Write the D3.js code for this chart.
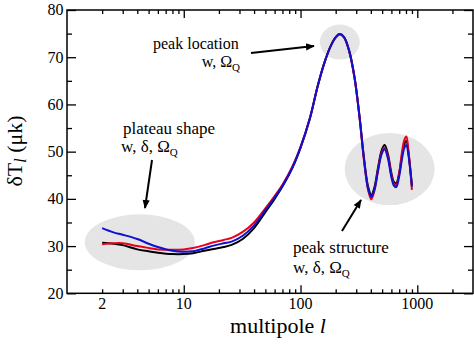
<!DOCTYPE html>
<html>
<head>
<meta charset="utf-8">
<script src="https://cdn.jsdelivr.net/npm/d3@7"></script>
<style>
  html, body { margin: 0; padding: 0; background: #fff; }
  svg { display: block; }
  text { font-family: "Liberation Serif", "Times New Roman", "DejaVu Serif", serif; fill: #000; }
</style>
</head>
<body>
<svg id="chart" width="474" height="357"></svg>
<script>
// ---- data ----
const multipoles = [2, 2.5, 3, 4, 5, 6, 8, 10, 12, 15, 18, 22, 26, 32, 40, 50, 60, 70, 85, 100, 120, 140, 160, 180, 200, 216, 235, 260, 290, 320, 350, 380, 404, 430, 460, 495, 525, 560, 600, 630, 660, 700, 740, 775, 806, 840, 900];
const blackSeries = [30.7, 30.5, 30.2, 29.3, 28.9, 28.6, 28.3, 28.3, 28.5, 29.0, 29.4, 29.8, 30.3, 31.5, 33.8, 37.2, 40.0, 42.6, 46.5, 50.8, 56.9, 63.8, 68.8, 72.2, 74.2, 74.9, 74.3, 71.5, 65.8, 57.5, 48.5, 42.5, 40.8, 42.5, 46.5, 50.3, 51.4, 49.5, 45.5, 43.6, 43.3, 45.5, 49.2, 51.6, 52.3, 49.8, 42.8];
const redSeries   = [30.4, 30.6, 30.6, 30.0, 29.6, 29.3, 29.2, 29.3, 29.6, 30.2, 30.8, 31.3, 31.8, 33.0, 35.0, 38.0, 40.6, 43.0, 46.8, 51.0, 57.0, 63.8, 68.8, 72.2, 74.2, 74.8, 74.2, 71.4, 65.6, 57.2, 48.0, 41.8, 39.9, 41.8, 46.0, 49.8, 50.8, 49.0, 45.0, 43.2, 42.9, 45.5, 50.0, 52.5, 53.2, 50.2, 41.9];
const blueSeries  = [33.8, 32.9, 32.4, 31.5, 30.5, 29.8, 29.0, 28.8, 28.9, 29.5, 30.1, 30.6, 31.0, 32.2, 34.4, 37.6, 40.3, 42.8, 46.6, 50.9, 57.0, 63.8, 68.8, 72.2, 74.2, 74.9, 74.3, 71.5, 65.7, 57.4, 48.3, 42.0, 40.4, 42.0, 45.8, 49.5, 50.5, 48.6, 44.6, 42.8, 42.5, 44.8, 48.5, 50.8, 51.4, 49.2, 42.6];
const seriesNames = ["black", "red", "blue"];
const seriesColors = ["#000000", "#e8001c", "#1010d0"];

const xTickLabels = [2, 10, 100, 1000];
const xMajorTicks = [10, 100, 1000];
const xMinorTicks = [2, 3, 4, 5, 6, 7, 8, 9, 20, 30, 40, 50, 60, 70, 80, 90, 200, 300, 400, 500, 600, 700, 800, 900, 2000];
const yMajorTicks = [20, 30, 40, 50, 60, 70, 80];
const yMinorTicks = [25, 35, 45, 55, 65, 75];

// ---- layout ----
const svg = d3.select("#chart");
const L = 67, R = 473, T = 10, B = 293.3;
const x = d3.scaleLog().domain([1, 3000]).range([L, R]);
const y = d3.scaleLinear().domain([20, 80]).range([B, T]);

// highlight ellipses (annotation regions)
const ellipses = [
  { l: 4.2, v: 30.8, rx: 55, ry: 28 },
  { l: 217, v: 73.2, rx: 20, ry: 17.5 },
  { l: 580, v: 46.3, rx: 45, ry: 36 }
];
svg.selectAll("ellipse.hl").data(ellipses).enter().append("ellipse")
  .attr("class", "hl")
  .attr("cx", d => x(d.l)).attr("cy", d => y(d.v))
  .attr("rx", d => d.rx).attr("ry", d => d.ry)
  .attr("fill", "#e5e5e5");

// ---- curves ----
const allSeries = [blackSeries, redSeries, blueSeries];
const line = d3.line()
  .x(d => x(d[0])).y(d => y(d[1]))
  .curve(d3.curveCatmullRom.alpha(0.5));
allSeries.forEach((vals, i) => {
  svg.append("path")
    .datum(multipoles.map((m, k) => [m, vals[k]]))
    .attr("d", line)
    .attr("fill", "none")
    .attr("stroke", seriesColors[i])
    .attr("stroke-width", 2)
    .attr("stroke-linejoin", "round");
});

// ---- axes (box with inward ticks) ----
const axisG = svg.append("g");
function addAxis(axis, transform) {
  const g = axisG.append("g").attr("transform", transform).call(axis);
  g.select(".domain").remove();
  g.selectAll(".tick line").attr("stroke", "#000").attr("stroke-width", 1.3);
  g.selectAll("text").remove();
  return g;
}
// bottom & top
addAxis(d3.axisBottom(x).tickValues(xMajorTicks).tickSize(-8), `translate(0,${B})`);
addAxis(d3.axisBottom(x).tickValues(xMinorTicks).tickSize(-4), `translate(0,${B})`);
addAxis(d3.axisTop(x).tickValues(xMajorTicks).tickSize(-8), `translate(0,${T})`);
addAxis(d3.axisTop(x).tickValues(xMinorTicks).tickSize(-4), `translate(0,${T})`);
// left & right
addAxis(d3.axisLeft(y).tickValues(yMajorTicks).tickSize(-9), `translate(${L},0)`);
addAxis(d3.axisLeft(y).tickValues(yMinorTicks).tickSize(-5), `translate(${L},0)`);
addAxis(d3.axisRight(y).tickValues(yMajorTicks).tickSize(-9), `translate(${R},0)`);
addAxis(d3.axisRight(y).tickValues(yMinorTicks).tickSize(-5), `translate(${R},0)`);

svg.append("rect")
  .attr("x", L).attr("y", T).attr("width", R - L).attr("height", B - T)
  .attr("fill", "none").attr("stroke", "#000").attr("stroke-width", 1.5);

// tick labels
svg.selectAll("text.xt").data(xTickLabels).enter().append("text")
  .attr("class", "xt")
  .attr("x", d => x(d)).attr("y", 309)
  .attr("text-anchor", "middle").attr("font-size", 16)
  .text(d => d);
svg.selectAll("text.yt").data(yMajorTicks).enter().append("text")
  .attr("class", "yt")
  .attr("x", 63.5).attr("y", d => y(d)).attr("dy", "0.34em")
  .attr("text-anchor", "end").attr("font-size", 16)
  .text(d => d);

// axis titles
const xt = svg.append("text").attr("x", 278).attr("y", 333)
  .attr("text-anchor", "middle").attr("font-size", 22);
xt.append("tspan").text("multipole ");
xt.append("tspan").attr("font-style", "italic").text("l");

const yt = svg.append("text")
  .attr("transform", "translate(22,151) rotate(-90)")
  .attr("text-anchor", "middle").attr("font-size", 22);
yt.append("tspan").text("δT");
yt.append("tspan").attr("font-style", "italic").attr("font-size", 16).attr("dy", 4).text("l");
yt.append("tspan").attr("dy", -4).text(" (μk)");

// ---- annotations ----
const defs = svg.append("defs");
defs.append("marker").attr("id", "ah")
  .attr("viewBox", "0 0 10 10").attr("refX", 9).attr("refY", 5)
  .attr("markerWidth", 4.5).attr("markerHeight", 4.5).attr("orient", "auto")
  .attr("markerUnits", "strokeWidth")
  .append("path").attr("d", "M0,1 L10,5 L0,9 z").attr("fill", "#000");

const arrows = [
  [251, 53, 314, 46],
  [152, 160, 145, 208],
  [342, 231, 361, 200]
];
svg.selectAll("line.arr").data(arrows).enter().append("line")
  .attr("class", "arr")
  .attr("x1", d => d[0]).attr("y1", d => d[1])
  .attr("x2", d => d[2]).attr("y2", d => d[3])
  .attr("stroke", "#000").attr("stroke-width", 2)
  .attr("marker-end", "url(#ah)");

function subQ(sel) {
  sel.append("tspan").attr("font-size", 11).attr("dy", 4).text("Q");
}
// peak location
svg.append("text").attr("x", 153).attr("y", 49).attr("font-size", 16).text("peak location");
const pl2 = svg.append("text").attr("x", 240).attr("y", 67).attr("font-size", 16).attr("text-anchor", "end");
pl2.append("tspan").text("w, Ω");
subQ(pl2);
// plateau shape
svg.append("text").attr("x", 123).attr("y", 134).attr("font-size", 17).text("plateau shape");
const ps2 = svg.append("text").attr("x", 121).attr("y", 152).attr("font-size", 17);
ps2.append("tspan").text("w, δ, Ω");
subQ(ps2);
// peak structure
svg.append("text").attr("x", 293).attr("y", 253).attr("font-size", 17).text("peak structure");
const pk2 = svg.append("text").attr("x", 293).attr("y", 273).attr("font-size", 17);
pk2.append("tspan").text("w, δ, Ω");
subQ(pk2);
</script>
</body>
</html>
